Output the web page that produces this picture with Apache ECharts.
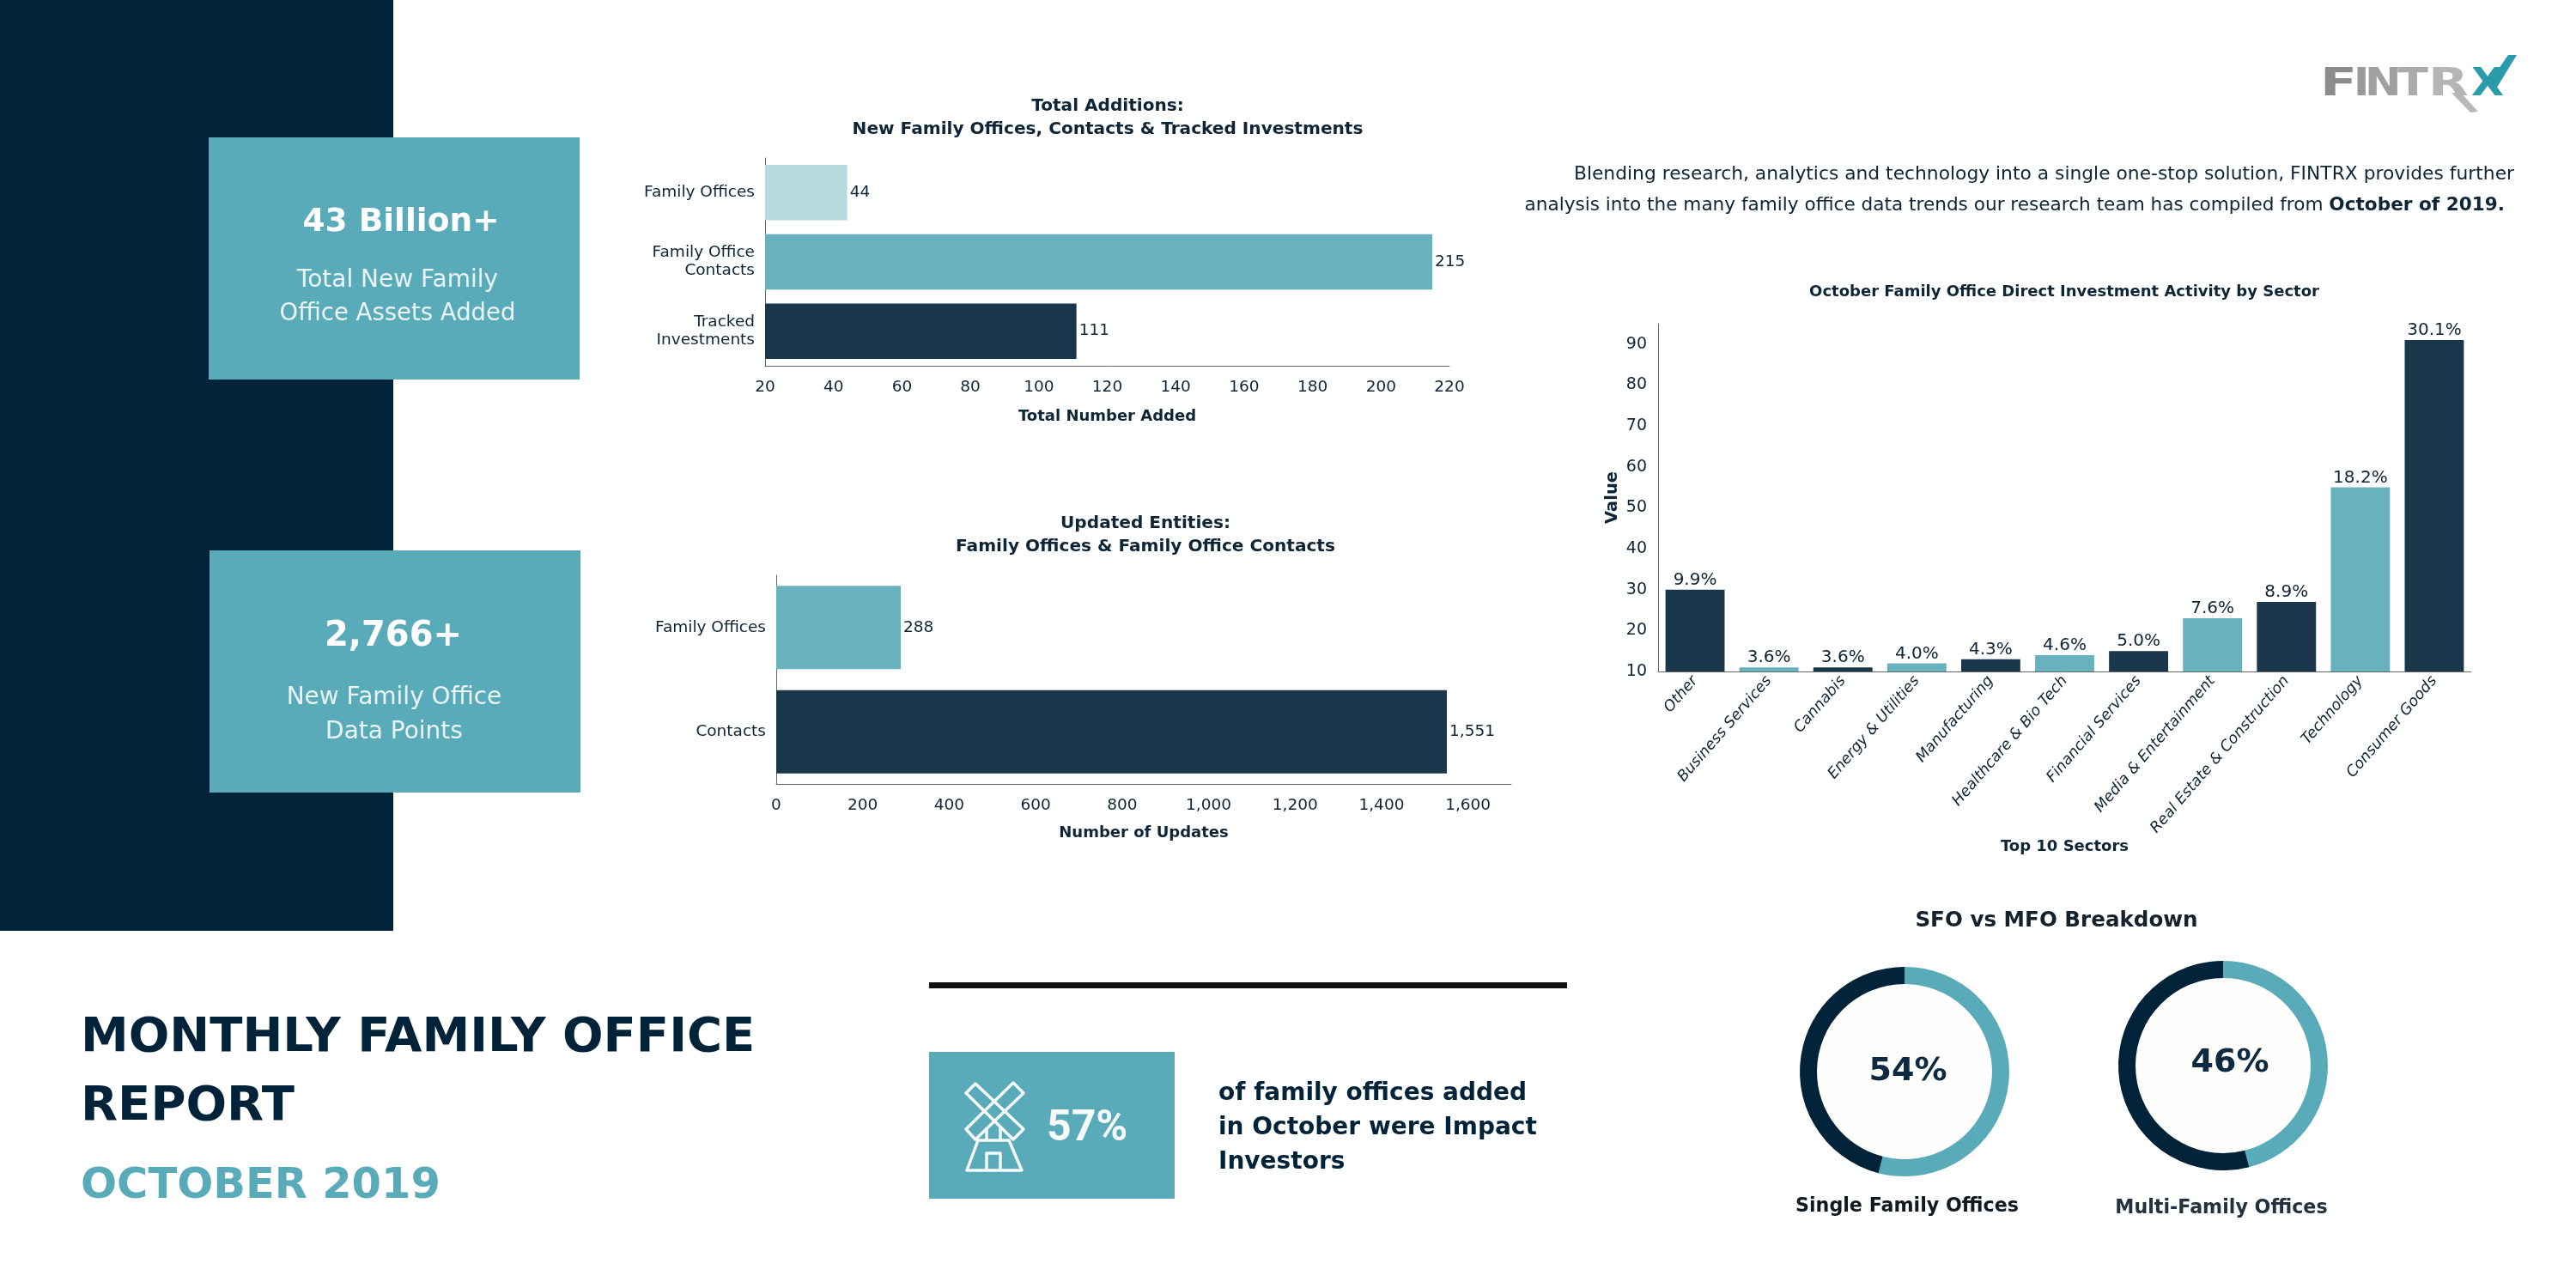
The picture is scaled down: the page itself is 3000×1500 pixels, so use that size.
<!DOCTYPE html>
<html lang="en">
<head>
<meta charset="utf-8" />
<title>Monthly Family Office Report - October 2019</title>
<style>
  html, body { margin: 0; padding: 0; background: #fff; }
  #main { width: 3000px; height: 1500px; }
</style>
</head>
<body>
<div id="main"></div>
<script src="https://cdn.jsdelivr.net/npm/echarts@6/dist/echarts.min.js"></script>
<script>
// data
const additionCats = ['Family Offices', 'Family Office\nContacts', 'Tracked\nInvestments'];
const additionVals = [44, 215, 111];
const updateCats = ['Family Offices', 'Contacts'];
const updateVals = [288, 1551];
const sectorCats = ['Other', 'Business Services', 'Cannabis', 'Energy & Utilities', 'Manufacturing',
  'Healthcare & Bio Tech', 'Financial Services', 'Media & Entertainment',
  'Real Estate & Construction', 'Technology', 'Consumer Goods'];
const sectorVals = [30, 11, 11, 12, 13, 14, 15, 23, 27, 55, 91];
const sectorShares = ['9.9%', '3.6%', '3.6%', '4.0%', '4.3%', '4.6%', '5.0%', '7.6%', '8.9%', '18.2%', '30.1%'];
const sfoSplit = [54, 46];
const mfoSplit = [46, 54];

// colours
const NAVY = '#012339';
const TEAL = '#5AABB9';
const BAR_DARK = '#1B374B';
const BAR_MID = '#68B2BF';
const BAR_LIGHT = '#B5DAE0';
const INK = '#0D2536';
const LOGO_TEAL = '#2A9BAA';
const FONT = '"DejaVu Sans", Verdana, sans-serif';

const additionColors = [BAR_LIGHT, BAR_MID, BAR_DARK];
const updateColors = [BAR_MID, BAR_DARK];

function txt(x, y, text, size, fill, weight, align) {
  return {
    type: 'text', z: 5, silent: true,
    style: {
      x: x, y: y, text: text, fill: fill,
      font: (weight || 'normal') + ' ' + size + 'px ' + FONT,
      textAlign: align || 'center', textVerticalAlign: 'middle', verticalAlign: 'middle'
    }
  };
}
function box(x, y, w, h, fill, z) {
  return { type: 'rect', z: z || 1, silent: true, shape: { x: x, y: y, width: w, height: h }, style: { fill: fill } };
}
function line(points, closed) {
  return {
    type: closed ? 'polygon' : 'polyline', z: 5, silent: true, shape: { points: points },
    style: { fill: closed ? 'none' : null, stroke: '#F6FAFB', lineWidth: 3.5, lineJoin: 'round' }
  };
}
// logo letters are stretched one by one to the wide wordmark
function logoLetter(ch, left, stretch, fill) {
  return {
    type: 'text', z: 5, silent: true, x: left, y: 99, scaleX: stretch,
    style: {
      x: 0, y: 0, text: ch, fill: fill, font: 'bold 45px ' + FONT,
      textAlign: 'left', textVerticalAlign: 'middle', verticalAlign: 'middle'
    }
  };
}

const valueAxisBase = {
  type: 'value', nameLocation: 'middle',
  nameTextStyle: { color: INK, fontFamily: FONT, fontWeight: 'bold', fontSize: 18 },
  axisLine: { show: true, lineStyle: { color: '#666', width: 1 } },
  axisTick: { show: false }, splitLine: { show: false },
  axisLabel: { color: INK, fontFamily: FONT, fontSize: 18.5, margin: 16 }
};
const catAxisBase = {
  type: 'category',
  axisLine: { show: true, lineStyle: { color: '#666', width: 1 } },
  axisTick: { show: false },
  axisLabel: { color: INK, fontFamily: FONT, fontSize: 18.5, lineHeight: 21, margin: 12, padding: [8, 0, 0, 0] }
};
const valueLabel = {
  show: true, position: 'right', distance: 3, color: INK, fontFamily: FONT, fontSize: 18.5, padding: [4, 0, 0, 0],
  formatter: function (p) { return p.value.toLocaleString('en-US'); }
};
function titleOf(text, x, y, size, lh) {
  return {
    text: text, left: x, top: y, textAlign: 'center',
    textStyle: { color: INK, fontFamily: FONT, fontWeight: 'bold', fontSize: size, lineHeight: lh }
  };
}

const graphics = [
  // backdrop and stat cards
  box(0, 0, 458, 1084, NAVY, 0),
  box(243, 160, 432, 282, TEAL),
  box(244, 641, 432, 282, TEAL),
  txt(467, 259, '43 Billion+', 37.5, '#fff', 'bold'),
  txt(463, 327, 'Total New Family', 28, '#EAF5F7'),
  txt(463, 366, 'Office Assets Added', 27.5, '#EAF5F7'),
  txt(458, 742, '2,766+', 40, '#fff', 'bold'),
  txt(459, 813, 'New Family Office', 28, '#EAF5F7'),
  txt(459, 853, 'Data Points', 28, '#EAF5F7'),

  // report heading
  txt(94, 1209, 'MONTHLY FAMILY OFFICE', 56, NAVY, 'bold', 'left'),
  txt(94, 1289, 'REPORT', 56, NAVY, 'bold', 'left'),
  txt(94, 1382, 'OCTOBER 2019', 49.5, TEAL, 'bold', 'left'),

  // impact investors callout
  box(1082, 1144, 743, 7, '#111'),
  box(1082, 1225, 286, 171, TEAL),
  line([[1125, 1273], [1136, 1262], [1192, 1315], [1180, 1327]], true),
  line([[1192, 1273], [1180, 1261], [1125, 1315], [1136, 1327]], true),
  line([[1149, 1313], [1149, 1328]]),
  line([[1165, 1313], [1165, 1328]]),
  line([[1139, 1328], [1175, 1328], [1190, 1363], [1126, 1363]], true),
  line([[1149, 1362], [1149, 1343], [1165, 1343], [1165, 1362]]),
  {
    type: 'text', z: 5, silent: true,
    style: {
      x: 1219, y: 1315, text: '57%', fill: '#F6FAFB',
      font: 'bold 50px Roboto, "Liberation Sans", sans-serif',
      textAlign: 'left', textVerticalAlign: 'middle', verticalAlign: 'middle'
    }
  },
  txt(1419, 1274, 'of family offices added', 28, NAVY, 'bold', 'left'),
  txt(1419, 1314, 'in October were Impact', 28, NAVY, 'bold', 'left'),
  txt(1419, 1354, 'Investors', 28, NAVY, 'bold', 'left'),

  // logo
  logoLetter('F', 2702, 1.4, '#8C8C8C'),
  logoLetter('I', 2741, 1.1, '#999999'),
  logoLetter('N', 2754, 1.13, '#A0A0A0'),
  logoLetter('T', 2792, 1.17, '#ABABAB'),
  logoLetter('R', 2828, 1.35, '#B5B5B5'),
  logoLetter('X', 2878, 1.1, LOGO_TEAL),
  { type: 'polygon', z: 6, silent: true, shape: { points: [[2899, 96], [2921, 64], [2931, 64], [2906, 105]] }, style: { fill: LOGO_TEAL } },
  { type: 'polygon', z: 4, silent: true, shape: { points: [[2855, 108], [2866, 108], [2886, 130], [2877, 131]] }, style: { fill: '#B8B8B8' } },

  // intro paragraph
  {
    type: 'text', z: 5, silent: true,
    style: {
      x: 2928, y: 203, text: 'Blending research, analytics and technology into a single one-stop solution, FINTRX provides further',
      fill: INK, font: 'normal 21.8px ' + FONT, textAlign: 'right', textVerticalAlign: 'middle', verticalAlign: 'middle'
    }
  },
  {
    type: 'text', z: 5, silent: true,
    style: {
      x: 2917, y: 239, text: '{a|analysis into the many family office data trends our research team has compiled from }{b|October of 2019.}',
      fill: INK, textAlign: 'right', textVerticalAlign: 'middle', verticalAlign: 'middle',
      rich: {
        a: { fill: INK, font: 'normal 21.6px ' + FONT },
        b: { fill: INK, font: 'bold 21.6px ' + FONT }
      }
    }
  },

  // donut section
  txt(2395, 1073, 'SFO vs MFO Breakdown', 24.6, '#14222E', 'bold'),
  { type: 'circle', z: 1, silent: true, shape: { cx: 2218, cy: 1248, r: 102 }, style: { fill: '#FEFEFC' } },
  { type: 'circle', z: 1, silent: true, shape: { cx: 2589, cy: 1241, r: 102 }, style: { fill: '#FEFEFC' } },
  txt(2222, 1248, sfoSplit[0] + '%', 38, '#0D2A40', 'bold'),
  txt(2597, 1238, mfoSplit[0] + '%', 38, '#0D2A40', 'bold'),
  txt(2221, 1405, 'Single Family Offices', 22.2, '#101820', 'bold'),
  txt(2587, 1407, 'Multi-Family Offices', 22.2, '#22323E', 'bold')
];

function donut(center, split) {
  return {
    type: 'pie', center: center, radius: [102, 122], startAngle: 90, silent: true,
    label: { show: false }, labelLine: { show: false },
    data: split.map(function (v, i) {
      return { value: v, itemStyle: { color: i === 0 ? TEAL : NAVY } };
    })
  };
}

const option = {
  backgroundColor: '#fff',
  animation: false,
  graphic: { elements: graphics },
  title: [
    titleOf('Total Additions:\nNew Family Offices, Contacts & Tracked Investments', 1285, 105, 20.1, 27),
    titleOf('Updated Entities:\nFamily Offices & Family Office Contacts', 1329, 591, 20.1, 27),
    titleOf('October Family Office Direct Investment Activity by Sector', 2399, 324, 18, 22)
  ],
  grid: [
    { left: 891, top: 184, width: 797, height: 242 },
    { left: 904, top: 670, width: 856, height: 243 },
    { left: 1931, top: 377, width: 947, height: 405 }
  ],
  xAxis: [
    Object.assign({}, valueAxisBase, {
      gridIndex: 0, min: 20, max: 220, interval: 20, name: 'Total Number Added', nameGap: 50
    }),
    Object.assign({}, valueAxisBase, {
      gridIndex: 1, min: 0, max: 1700, interval: 200, name: 'Number of Updates', nameGap: 48,
      axisLabel: Object.assign({}, valueAxisBase.axisLabel, { showMaxLabel: false })
    }),
    Object.assign({}, catAxisBase, {
      gridIndex: 2, data: sectorCats, name: 'Top 10 Sectors', nameLocation: 'middle', nameGap: 179,
      nameTextStyle: valueAxisBase.nameTextStyle,
      axisLabel: {
        color: INK, fontFamily: FONT, fontSize: 17.5, fontStyle: 'italic',
        rotate: 49, margin: 8, interval: 0
      }
    })
  ],
  yAxis: [
    Object.assign({}, catAxisBase, { gridIndex: 0, data: additionCats, inverse: true }),
    Object.assign({}, catAxisBase, { gridIndex: 1, data: updateCats, inverse: true }),
    Object.assign({}, valueAxisBase, {
      gridIndex: 2, min: 10, max: 95, interval: 10, name: 'Value', nameGap: 43,
      nameTextStyle: { color: INK, fontFamily: FONT, fontWeight: 'bold', fontSize: 19.5 },
      axisLabel: { color: INK, fontFamily: FONT, fontSize: 19, margin: 13, padding: [8, 0, 0, 0], showMaxLabel: false }
    })
  ],
  series: [
    {
      type: 'bar', xAxisIndex: 0, yAxisIndex: 0, data: additionVals, barWidth: '80%',
      itemStyle: { color: function (p) { return additionColors[p.dataIndex]; } },
      label: valueLabel
    },
    {
      type: 'bar', xAxisIndex: 1, yAxisIndex: 1, data: updateVals, barWidth: '80%',
      itemStyle: { color: function (p) { return updateColors[p.dataIndex]; } },
      label: valueLabel
    },
    {
      type: 'bar', xAxisIndex: 2, yAxisIndex: 2, data: sectorVals, barWidth: '80%',
      itemStyle: { color: function (p) { return p.dataIndex % 2 ? BAR_MID : BAR_DARK; } },
      label: {
        show: true, position: 'top', distance: 1, color: INK, fontFamily: FONT, fontSize: 20,
        formatter: function (p) { return sectorShares[p.dataIndex]; }
      }
    },
    donut([2218, 1248], sfoSplit),
    donut([2589, 1241], mfoSplit)
  ]
};

const chart = echarts.init(document.getElementById('main'));
chart.setOption(option);
window.onresize = function () { chart.resize(); };
</script>
</body>
</html>
